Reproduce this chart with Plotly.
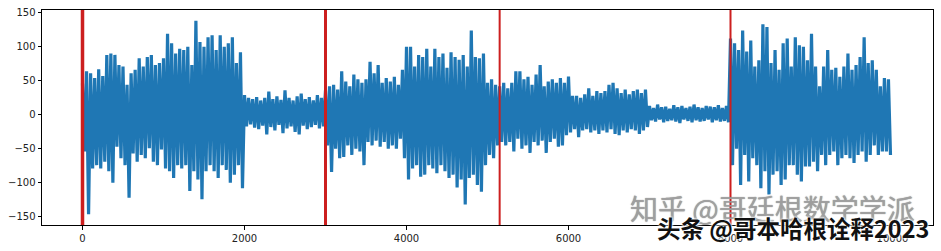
import plotly.graph_objects as go

# Peak envelope values, one upper / lower peak per 50 samples
upper_a = [45, 63, 60, 53, 66, 56, 87, 89, 87, 72, 70, 43, 60, 65, 82, 70, 84, 87, 72, 75,
           82, 118, 104, 89, 96, 94, 99, 72, 137, 106, 99, 113, 116, 94, 116, 99, 104, 113, 75, 91]
lower_a = [-55, -147, -80, -75, -80, -70, -84, -101, -48, -65, -75, -123, -58, -70, -60, -65, -50, -70, -75, -52,
           -80, -84, -94, -75, -80, -75, -113, -84, -96, -125, -84, -75, -84, -94, -75, -82, -101, -89, -75, -109]
upper_b = [28, 24, 22, 25, 20, 24, 33, 22, 26, 21, 35, 24, 20, 26, 30, 22, 25, 20, 28, 24]
lower_b = [-18, -15, -20, -22, -17, -30, -19, -24, -16, -28, -21, -18, -26, -30, -17, -22, -19, -16, -21, -18]
upper_c = [35, 41, 43, 36, 63, 48, 41, 58, 51, 46, 51, 77, 60, 72, 46, 53, 48, 55, 43, 65,
           99, 99, 70, 87, 84, 96, 70, 96, 84, 89, 68, 91, 84, 80, 87, 70, 123, 84, 82, 89, 46, 51, 43]
lower_c = [-46, -85, -51, -65, -63, -46, -60, -51, -55, -75, -41, -46, -39, -48, -41, -51, -46, -51, -36, -65,
           -96, -80, -75, -92, -89, -75, -80, -87, -75, -84, -94, -89, -108, -96, -133, -94, -89, -104, -114, -75,
           -60, -65, -46]
upper_d = [41, 46, 38, 46, 63, 63, 51, 55, 43, 58, 72, 41, 48, 51, 46, 53, 46, 55, 27, 27,
           24, 29, 38, 27, 34, 31, 34, 43, 46, 38, 31, 36, 29, 34, 36, 31, 36]
lower_d = [-41, -46, -41, -55, -36, -51, -46, -57, -41, -46, -39, -57, -41, -36, -48, -46, -31, -27, -22, -34,
           -24, -22, -27, -24, -29, -24, -27, -22, -29, -31, -24, -27, -22, -24, -29, -24, -19]
upper_e = [12, 9, 14, 10, 11, 8, 13, 10, 12, 9, 11, 14, 10, 9, 12, 11, 10, 13, 9, 12]
lower_e = [-9, -11, -8, -12, -10, -9, -11, -13, -8, -10, -12, -9, -11, -10, -8, -12, -9, -11, -10, -12]
upper_f = [111, 104, 94, 123, 92, 108, 70, 79, 132, 128, 75, 94, 65, 104, 111, 70, 113, 101, 99, 79,
           118, 70, 41, 70, 94, 65, 68, 55, 70, 89, 65, 72, 84, 113, 75, 79, 65, 41, 53, 51]
lower_f = [-75, -51, -104, -60, -99, -65, -75, -109, -84, -118, -89, -84, -104, -96, -75, -75, -89, -99, -77, -77,
           -70, -84, -60, -75, -60, -55, -75, -65, -60, -65, -72, -60, -55, -70, -60, -46, -60, -55, -55, -60]

sample_step = 50
change_points = [0, 3000, 5150, 8000]
change_widths = [3.5, 3, 2, 2]

upper = upper_a + upper_b + upper_c + upper_d + upper_e + upper_f
lower = lower_a + lower_b + lower_c + lower_d + lower_e + lower_f

xs, ys = [], []
for k, (u, l) in enumerate(zip(upper, lower)):
    xs += [k * sample_step, k * sample_step + sample_step // 2]
    ys += [u, l]

fig = go.Figure()
fig.add_trace(go.Scatter(x=xs, y=ys, mode="lines",
                         line=dict(color="#1f77b4", width=3.2, simplify=False), showlegend=False,
                         hoverinfo="skip"))

for cp, w in zip(change_points, change_widths):
    fig.add_vline(x=cp, line=dict(color="#cc1f1f", width=w), layer="above")

axis_common = dict(showline=True, mirror=True, linecolor="black", linewidth=1,
                   ticks="outside", ticklen=3.5, tickwidth=1, tickcolor="black",
                   showgrid=False, zeroline=False,
                   tickfont=dict(family="DejaVu Sans", size=10, color="#222"))

fig.update_xaxes(range=[-500, 10500], tickvals=[0, 2000, 4000, 6000, 8000, 10000],
                 tickformat="d", **axis_common)
fig.update_yaxes(range=[-163, 153], tickvals=[-150, -100, -50, 0, 50, 100, 150], **axis_common)

fig.add_annotation(text="知乎 @哥廷根数学学派", xref="paper", yref="paper", x=0.82, y=0.08,
                   xanchor="center", yanchor="middle", showarrow=False,
                   font=dict(family="Noto Sans CJK SC", size=28, color="rgba(165,165,165,0.85)",
                             shadow="0 0 1px rgba(80,80,80,0.9)"))
fig.add_annotation(text="<b>头条 @哥本哈根诠释2023</b>", xref="paper", yref="paper", x=0.843, y=-0.014,
                   xanchor="center", yanchor="middle", showarrow=False,
                   font=dict(family="Noto Sans CJK SC", size=23.5, color="#111",
                             shadow="0 0 2px white, 0 0 2px white, 0 0 3px white"))

fig.update_layout(width=941, height=251, margin=dict(l=42, r=7, t=9, b=23),
                  paper_bgcolor="white", plot_bgcolor="white")

fig.write_html("out.html")
